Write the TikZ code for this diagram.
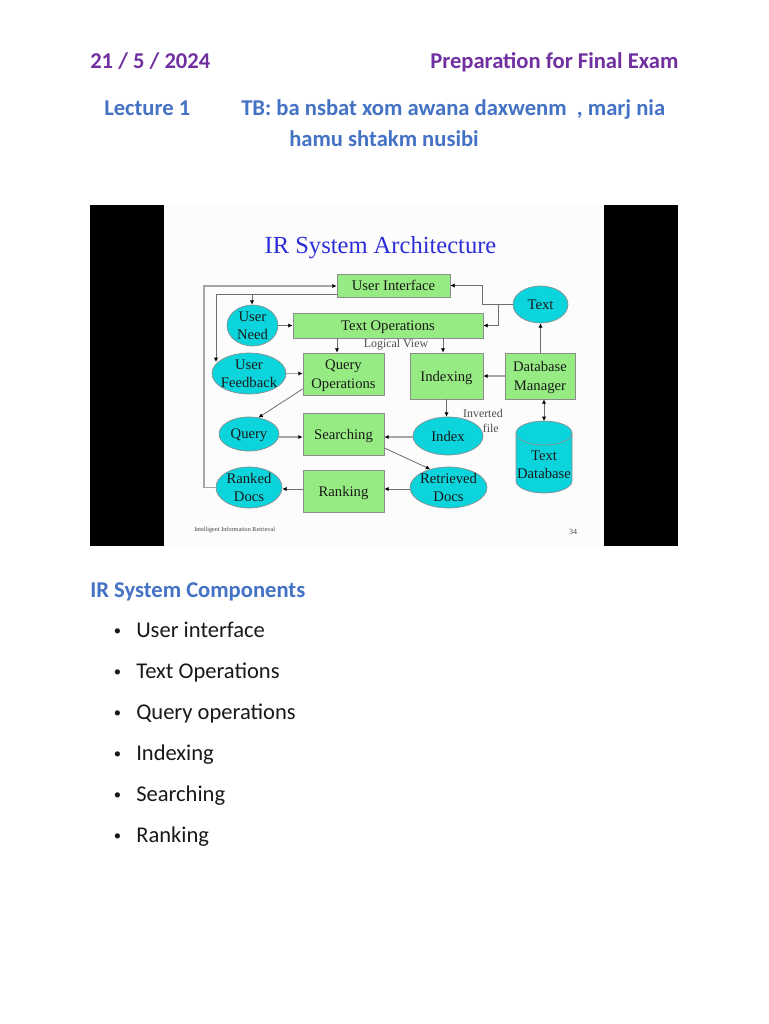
\documentclass[tikz,border=0pt]{standalone}
\usepackage{fontspec}
\setmainfont{Carlito}
\newfontfamily\slidefont{Liberation Serif}
\usetikzlibrary{arrows.meta,shapes.geometric}
\definecolor{headpurple}{RGB}{112,48,160}
\definecolor{headblue}{RGB}{68,114,196}
\definecolor{slideblue}{RGB}{45,45,215}
\definecolor{boxgreen}{RGB}{150,236,130}
\definecolor{ellcyan}{RGB}{12,212,220}
\definecolor{wire}{RGB}{110,110,110}
\tikzset{
  x=0.75pt,y=-0.75pt,
  purplehead/.style={anchor=base west,inner sep=0pt,text=headpurple,font=\fontsize{16.95}{20}\selectfont\bfseries},
  bluehead/.style={anchor=base west,inner sep=0pt,text=headblue,font=\fontsize{16.95}{20}\selectfont\bfseries},
  item/.style={anchor=base west,inner sep=0pt,text=black!90,font=\fontsize{16.9}{20}\selectfont},
  bullet/.style={anchor=base west,inner sep=0pt,text=black!90,font=\fontsize{11}{20}\selectfont},
  box/.style={draw=gray!90,fill=boxgreen,line width=.6pt,inner sep=0pt,align=center,text depth=-3pt,
    text=black!90,font=\slidefont\fontsize{11}{13.8}\selectfont},
  ell/.style={ellipse,draw=gray!90,fill=ellcyan,line width=.5pt,inner sep=-7pt,align=center,text depth=-4pt,
    text=black!90,font=\slidefont\fontsize{11}{13.8}\selectfont},
  lab/.style={inner sep=0pt,align=center,text=black!70,font=\slidefont\fontsize{8.9}{11.5}\selectfont},
  wire/.style={draw=wire,line width=.6pt,-{Latex[black,length=3.2pt,width=3.2pt]}},
  wireb/.style={draw=wire,line width=.6pt,{Latex[black,length=3.2pt,width=3.2pt]}-{Latex[black,length=3.2pt,width=3.2pt]}},
  fat/.style={draw=gray!70,line width=1.1pt,-{Latex[black,length=3.2pt,width=3.2pt]}},
}
\begin{document}
\begin{tikzpicture}
\useasboundingbox (0,0) rectangle (768,1024);
\fill[white] (0,0) rectangle (768,1024);

% page headings
\node[purplehead] (date) at (90,69) {21 / 5 / 2024};
\node[purplehead] (prep) at (430,69) {Preparation for Final Exam};
\node[bluehead] (lec) at (104,115) {Lecture 1};
\node[bluehead] (tb) at (241,115) {TB: ba nsbat xom awana daxwenm\ \ , marj nia};
\node[bluehead] (tb2) at (289,146) {hamu shtakm nusibi};

% slide picture
\fill[black] (90,205) rectangle (164,546);
\fill[black] (604,205) rectangle (678,546);
\fill[black!1] (164,205) rectangle (604,546);
\node[inner sep=0pt,text=slideblue,font=\slidefont\fontsize{18.4}{20}\selectfont] (title) at (380.5,248) {IR System Architecture};

% boxes
\node[box,minimum width=84.75pt,minimum height=17.25pt] (ui) at (393.5,285.5) {User Interface};
\node[box,minimum width=142.5pt,minimum height=18.75pt] (top) at (388,325.5) {Text Operations};
\node[box,minimum width=60.75pt,minimum height=31.5pt] (qop) at (343.5,374) {Query\\Operations};
\node[box,minimum width=54.75pt,minimum height=34.5pt] (idx) at (446.5,376) {Indexing};
\node[box,minimum width=52.5pt,minimum height=34.5pt] (dbm) at (540,376) {Database\\Manager};
\node[box,minimum width=60.75pt,minimum height=31.5pt] (sea) at (343.5,434) {Searching};
\node[box,minimum width=60.75pt,minimum height=31.5pt] (ran) at (343.5,491) {Ranking};

% ellipses
\node[ell,minimum width=38.25pt,minimum height=30.75pt] (need) at (252.5,325.5) {User\\Need};
\node[ell,minimum width=55.5pt,minimum height=30.75pt] (fb) at (249,373.5) {User\\Feedback};
\node[ell,minimum width=45pt,minimum height=25.5pt] (qry) at (249,434) {Query};
\node[ell,minimum width=49.5pt,minimum height=30.75pt] (rkd) at (249,487.5) {Ranked\\Docs};
\node[ell,minimum width=41.25pt,minimum height=27.75pt] (txt) at (540.5,304.5) {Text};
\node[ell,minimum width=52.5pt,minimum height=28.5pt] (ind) at (448,436) {Index};
\node[ell,minimum width=57.75pt,minimum height=30.75pt] (ret) at (448.5,487.5) {Retrieved\\Docs};

% database cylinder
\draw[draw=gray!90,fill=ellcyan,line width=.5pt] (516,433) -- (516,481)
  arc[start angle=180,end angle=360,x radius=21pt,y radius=9pt] -- (572,433)
  arc[start angle=0,end angle=180,x radius=21pt,y radius=9pt] -- cycle;
\draw[draw=gray!90,line width=.5pt] (516,433) arc[start angle=180,end angle=360,x radius=21pt,y radius=9pt];
\node[inner sep=0pt,align=center,text=black!90,font=\slidefont\fontsize{11}{13.8}\selectfont] (tdb) at (544,465) {Text\\Database};
\coordinate (tdbtop) at (544,421);

% labels
\node[lab] (logical) at (396,345) {Logical View};
\node[lab,anchor=east] (inv) at (503,413) {Inverted};
\node[lab,anchor=east] (file) at (499,428) {file};
\node[inner sep=0pt,anchor=west,text=black!75,font=\slidefont\fontsize{4.65}{6}\selectfont] (foot) at (194,530) {Intelligent Information Retrieval};
\node[inner sep=0pt,text=black!70,font=\slidefont\fontsize{6}{7}\selectfont] (num) at (573,532) {34};

% junctions and rows
\coordinate (fbl) at (204,286);
\coordinate (uil) at (216,294);
\coordinate (jn) at (252,294);
\coordinate (jr) at (482,304.5);
\coordinate (jd) at (498,304.5);
\coordinate (fbtop) at (216,362);
\coordinate (rowa) at (0,437);
\coordinate (rowb) at (0,489);
\coordinate (rowc) at (0,448);
\coordinate (rowd) at (0,389);
\coordinate (cola) at (337,0);
\coordinate (colb) at (443,0);

% connectors
\draw[fat] (rkd.west) -| (fbl) -- (ui.west |- fbl);
\draw[wire] (ui.west |- uil) -- (uil) -- (fbtop);
\draw[wire] (jn) -- (jn |- need.north);
\draw[wire] (need.east) -- (top.west);
\draw[fat] (fb.east) -- (qop.west |- fb.east);
\draw[wire] (cola |- top.south) -- (cola |- qop.north);
\draw[wire] (colb |- top.south) -- (colb |- idx.north);
\draw[wire] (txt.west) -- (jr) |- (ui.east);
\draw[wire] (jd) |- (top.east);
\draw[wire] (dbm.north -| txt.south) -- (txt.south);
\draw[fat] (dbm.west) -- (idx.east);
\draw[wireb] (dbm.south -| tdbtop) -- (tdbtop);
\draw[wire] (idx.south) -- (ind.north -| idx.south);
\draw[fat] (ind.west |- rowa) -- (sea.east |- rowa);
\draw[wire] (sea.east |- rowc) -- (ret.135);
\draw[wire] (ret.west |- rowb) -- (sea.east |- rowb);
\draw[wire] (ran.west |- rowb) -- (rkd.east |- rowb);
\draw[wire] (qop.west |- rowd) -- (qry.60);
\draw[fat] (qry.east |- rowa) -- (sea.west |- rowa);

% components list
\node[bluehead] (comp) at (90,597) {IR System Components};
\foreach \n/\y/\t in {a/637/User interface,b/678/Text Operations,c/719/Query operations,d/760/Indexing,e/801/Searching,f/842/Ranking}{
  \node[item] (li\n) at (136,\y) {\t};
  \node[bullet] (bu\n) at (113.5,\y-2) {•};
}
\end{tikzpicture}
\end{document}
